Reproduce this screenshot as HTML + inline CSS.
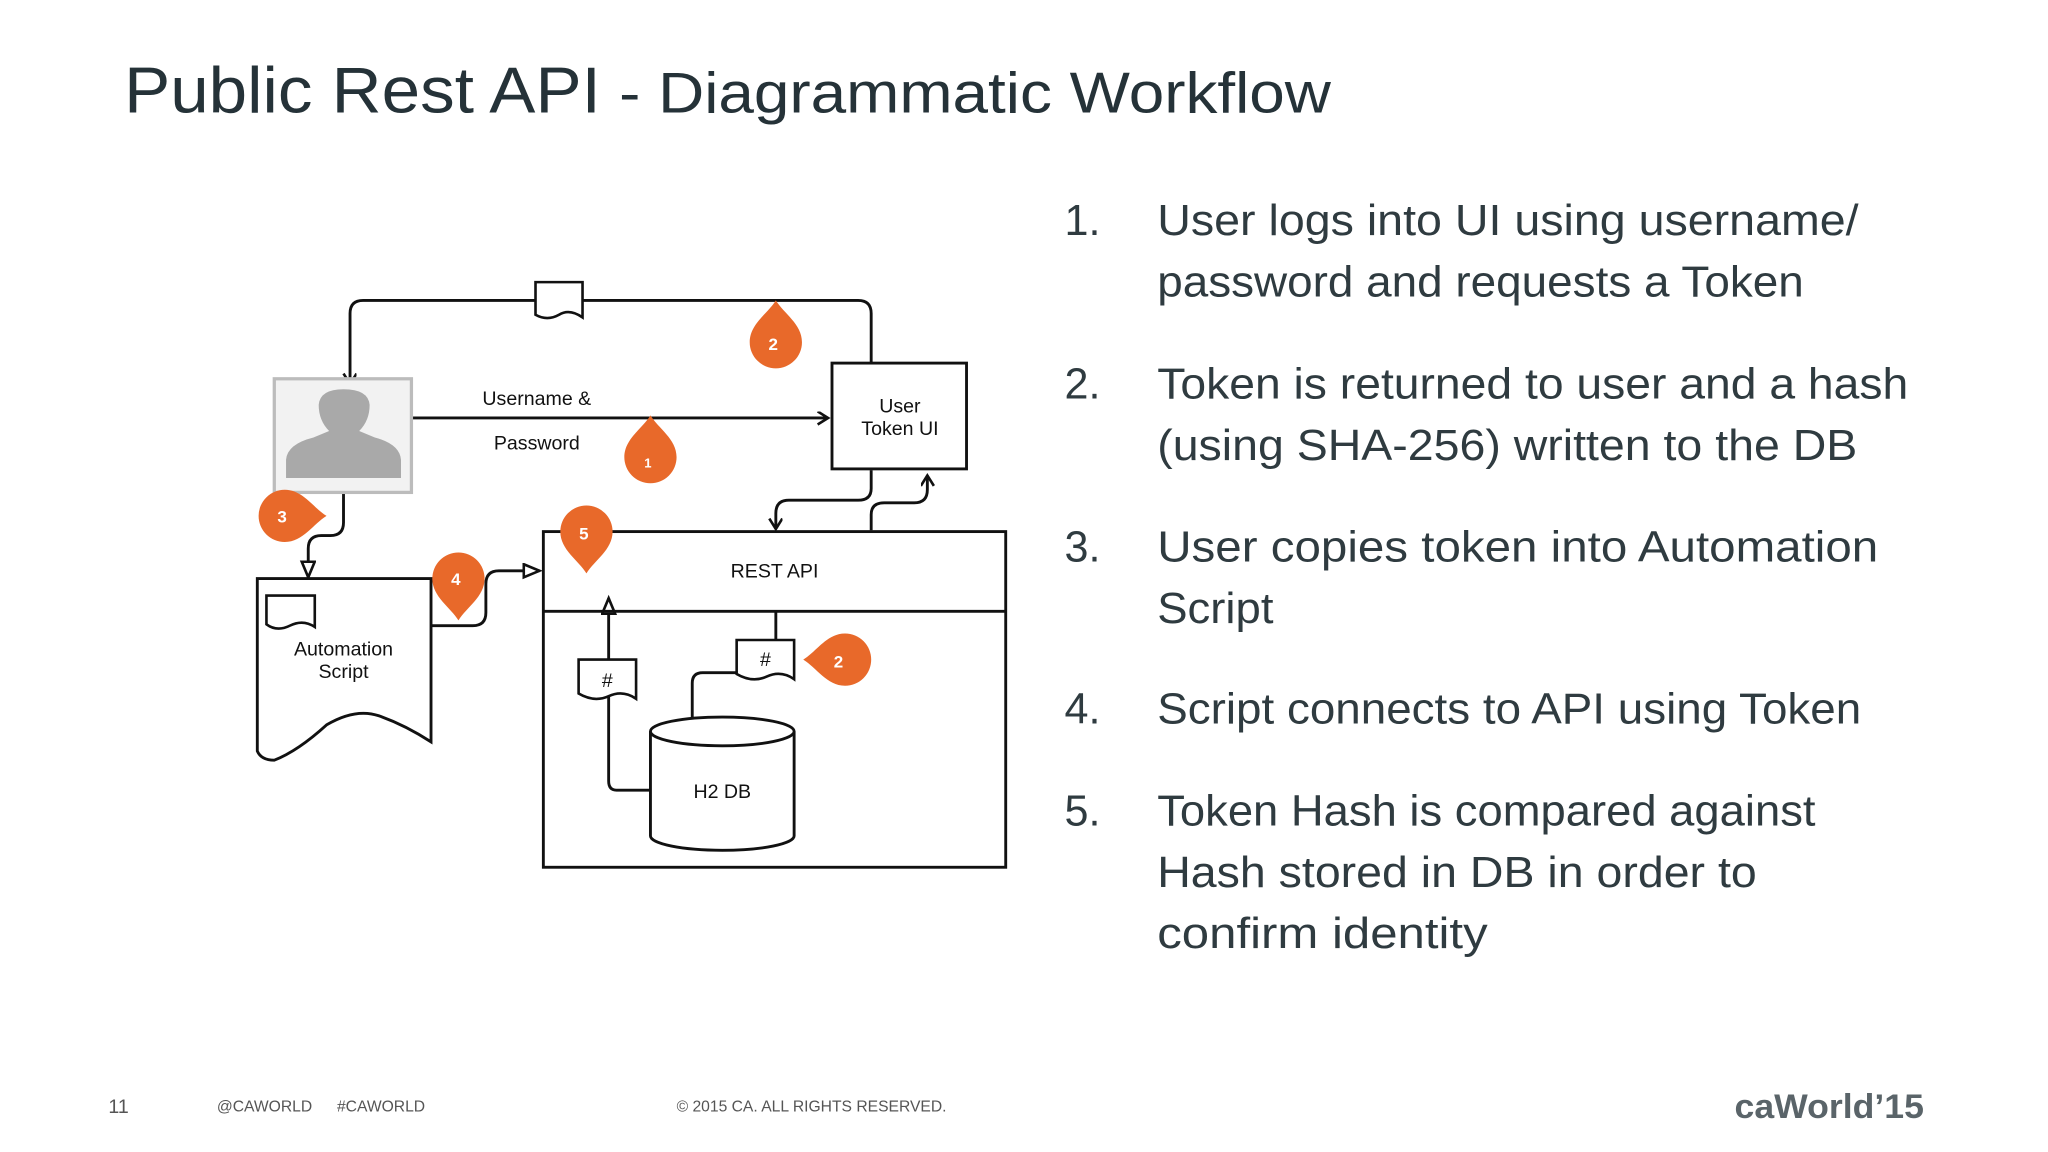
<!DOCTYPE html>
<html><head><meta charset="utf-8"><style>
html,body{margin:0;padding:0;background:#fff;}
svg{display:block;}
text{font-family:"Liberation Sans",sans-serif;}
</style></head><body>
<svg width="2048" height="1152" viewBox="0 0 1568 882" xmlns="http://www.w3.org/2000/svg">
<defs>
<marker id="av" markerWidth="12" markerHeight="12" refX="9" refY="5" orient="auto" markerUnits="userSpaceOnUse"><path d="M1,0 L9,5 L1,10" fill="none" stroke="#111" stroke-width="2"/></marker>
<marker id="at" markerWidth="16" markerHeight="16" refX="13" refY="6" orient="auto" markerUnits="userSpaceOnUse"><path d="M1,1 L13,6 L1,11 Z" fill="#fff" stroke="#111" stroke-width="2"/></marker>
<path id="drop" d="M0,-30 C6,-20 20,-12 20,2 A20,20 0 1 1 -20,2 C-20,-12 -6,-20 0,-30Z" fill="#e8692a"/>
</defs>
<rect width="1568" height="882" fill="#fff"/>
<!-- title -->
<text x="95" y="86" fill="#253238" font-size="50" textLength="365" lengthAdjust="spacingAndGlyphs">Public Rest API</text>
<text x="474" y="86" fill="#253238" font-size="44" textLength="545" lengthAdjust="spacingAndGlyphs">- Diagrammatic Workflow</text>
<!-- list -->
<g fill="#2f3b40" font-size="33">
<text x="815" y="180">1.</text>
<text x="886" y="180" textLength="537" lengthAdjust="spacingAndGlyphs">User logs into UI using username/</text>
<text x="886" y="227" textLength="495" lengthAdjust="spacingAndGlyphs">password and requests a Token</text>
<text x="815" y="305">2.</text>
<text x="886" y="305" textLength="575" lengthAdjust="spacingAndGlyphs">Token is returned to user and a hash</text>
<text x="886" y="352" textLength="536" lengthAdjust="spacingAndGlyphs">(using SHA-256) written to the DB</text>
<text x="815" y="430">3.</text>
<text x="886" y="430" textLength="552" lengthAdjust="spacingAndGlyphs">User copies token into Automation</text>
<text x="886" y="477" textLength="89" lengthAdjust="spacingAndGlyphs">Script</text>
<text x="815" y="554">4.</text>
<text x="886" y="554" textLength="539" lengthAdjust="spacingAndGlyphs">Script connects to API using Token</text>
<text x="815" y="632">5.</text>
<text x="886" y="632" textLength="504" lengthAdjust="spacingAndGlyphs">Token Hash is compared against</text>
<text x="886" y="679" textLength="459" lengthAdjust="spacingAndGlyphs">Hash stored in DB in order to</text>
<text x="886" y="726" textLength="253" lengthAdjust="spacingAndGlyphs">confirm identity</text>
</g>
<!-- diagram -->
<g fill="none" stroke="#111" stroke-width="2.2">
<!-- top loop -->
<path d="M667,278 L667,240 Q667,230 657,230 L278,230 Q268,230 268,240 L268,294" marker-end="url(#av)"/>
<!-- username arrow -->
<path d="M315,320 L634,320" marker-end="url(#av)"/>
<!-- token UI to REST -->
<path d="M667,360 L667,374 Q667,383 657,383 L604,383 Q594,383 594,393 L594,405" marker-end="url(#av)"/>
<path d="M667,406 L667,394 Q667,385 677,385 L700,385 Q710,385 710,375 L710,364" marker-end="url(#av)"/>
<!-- user to script -->
<path d="M263,377 L263,400 Q263,410 253,410 L246,410 Q236,410 236,420 L236,442" marker-end="url(#at)"/>
<!-- script to REST -->
<path d="M330,479 L362,479 Q372,479 372,469 L372,447 Q372,437 382,437 L413,437" marker-end="url(#at)"/>
<!-- DB to REST -->
<path d="M498,605 L472,605 Q466,605 466,598 L466,458" marker-end="url(#at)"/>
<!-- divider to DB -->
<path d="M594,468 L594,492"/>
<path d="M564,515 L538,515 Q530,515 530,523 L530,560" marker-end="url(#av)"/>
</g>
<!-- user box -->
<rect x="210" y="290" width="105" height="87" fill="#f2f2f2" stroke="#bcbcbc" stroke-width="2.5"/>
<path d="M219,366 L219,352 Q220,340 240,335 L252,330 Q244,322 244,310 Q245,298 263,298 Q282,298 283,310 Q283,322 275,330 L287,335 Q306,340 307,352 L307,366 Z" fill="#a9a9a9"/>
<!-- doc on top line -->
<path d="M410,216 L446,216 L446,243 Q436,236 428,241 Q419,246 410,241 Z" fill="#fff" stroke="#111" stroke-width="2"/>
<!-- token UI -->
<rect x="637" y="278" width="103" height="81" fill="#fff" stroke="#111" stroke-width="2.2"/>
<!-- REST API -->
<rect x="416" y="407" width="354" height="257" fill="none" stroke="#111" stroke-width="2.2"/>
<line x1="416" y1="468" x2="770" y2="468" stroke="#111" stroke-width="2.2"/>
<!-- automation script doc -->
<path d="M197,443 L330,443 L330,568 Q310,555 290,548 Q272,542 250,555 Q228,575 210,582 Q200,582 197,575 Z" fill="#fff" stroke="#111" stroke-width="2.2"/>
<path d="M204,456 L241,456 L241,480 Q232,474 222,479 Q212,484 204,478 Z" fill="#fff" stroke="#111" stroke-width="2"/>
<!-- # docs -->
<path d="M443,505 L487,505 L487,535 Q477,528 466,533 Q455,538 443,531 Z" fill="#fff" stroke="#111" stroke-width="2"/>
<path d="M564,490 L608,490 L608,520 Q598,513 587,518 Q576,523 564,516 Z" fill="#fff" stroke="#111" stroke-width="2"/>
<!-- DB -->
<path d="M498,560 L498,640 A55,11 0 0 0 608,640 L608,560" fill="#fff" stroke="#111" stroke-width="2.2"/>
<ellipse cx="553" cy="560" rx="55" ry="11" fill="#fff" stroke="#111" stroke-width="2.2"/>
<!-- diagram labels -->
<g fill="#111" font-size="15" text-anchor="middle">
<text x="411" y="310">Username &amp;</text>
<text x="411" y="344">Password</text>
<text x="689" y="316">User</text>
<text x="689" y="333">Token UI</text>
<text x="593" y="442">REST API</text>
<text x="263" y="502">Automation</text>
<text x="263" y="519">Script</text>
<text x="465" y="526">#</text>
<text x="586" y="510">#</text>
<text x="553" y="611">H2 DB</text>
</g>
<!-- drops -->
<use href="#drop" transform="translate(594,260)"/>
<use href="#drop" transform="translate(498,348)"/>
<use href="#drop" transform="translate(220,395) rotate(90)"/>
<use href="#drop" transform="translate(351,445) rotate(180)"/>
<use href="#drop" transform="translate(449,409) rotate(180)"/>
<use href="#drop" transform="translate(645,505) rotate(-90)"/>
<g fill="#fff" font-size="13" font-weight="bold" text-anchor="middle">
<text x="592" y="268">2</text>
<text x="496" y="358" font-size="10">1</text>
<text x="216" y="400">3</text>
<text x="349" y="448">4</text>
<text x="447" y="413">5</text>
<text x="642" y="511">2</text>
</g>
<!-- footer -->
<g fill="#555" font-size="12">
<text x="83" y="852" font-size="15">11</text>
<text x="166" y="851">@CAWORLD</text>
<text x="258" y="851">#CAWORLD</text>
<text x="518" y="851">© 2015 CA. ALL RIGHTS RESERVED.</text>
</g>
<text x="1328" y="856" fill="#5a6469" font-size="26" font-weight="bold" textLength="145" lengthAdjust="spacingAndGlyphs">caWorld’15</text>
</svg>
</body></html>
